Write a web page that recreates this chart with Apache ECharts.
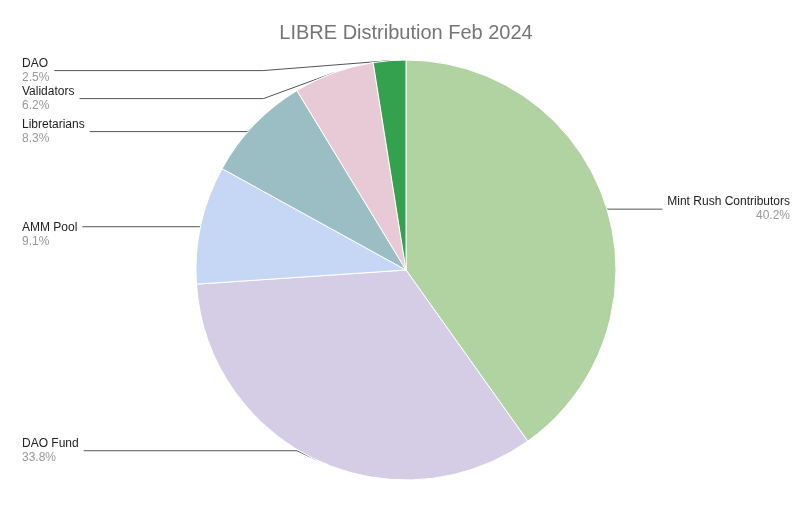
<!DOCTYPE html><html><head><meta charset="utf-8"><script src="https://cdn.jsdelivr.net/npm/echarts@6/dist/echarts.min.js"></script></head><body style="margin:0"><div id="c" style="width:812px;height:505px"></div><script>
const names=['Mint Rush Contributors','DAO Fund','AMM Pool','Libretarians','Validators','DAO'];
const values=[40.2,33.8,9.1,8.3,6.2,2.5];
const colors=['#b0d3a1','#d5cde6','#c5d7f5','#9bbdc4','#e8cad6','#33a14e'];
const ch=echarts.init(document.getElementById('c'));
ch.setOption({
 title:{text:'LIBRE Distribution Feb 2024',left:'center',top:18,textStyle:{color:'#757575',fontSize:20,fontWeight:'normal',fontFamily:'Liberation Sans'}},
 series:[{type:'pie',center:[406,270],radius:210,startAngle:90,
  data:names.map((n,i)=>({name:n,value:values[i],itemStyle:{color:colors[i]}})),
  itemStyle:{borderColor:'#fff',borderWidth:1},
  label:{alignTo:'edge',edgeDistance:22,formatter:p=>'{n|'+p.name+'}\n{p|'+p.value.toFixed(1)+'%}',
   rich:{n:{color:'#222',fontSize:12,fontFamily:'Liberation Sans',lineHeight:14},p:{color:'#999',fontSize:12,fontFamily:'Liberation Sans',lineHeight:14}}},
  labelLine:{length:-10,length2:0,lineStyle:{color:'#555',width:1}},
  labelLayout:{moveOverlap:'shiftY'},
  emphasis:{disabled:true}
 }]
});
</script></body></html>
